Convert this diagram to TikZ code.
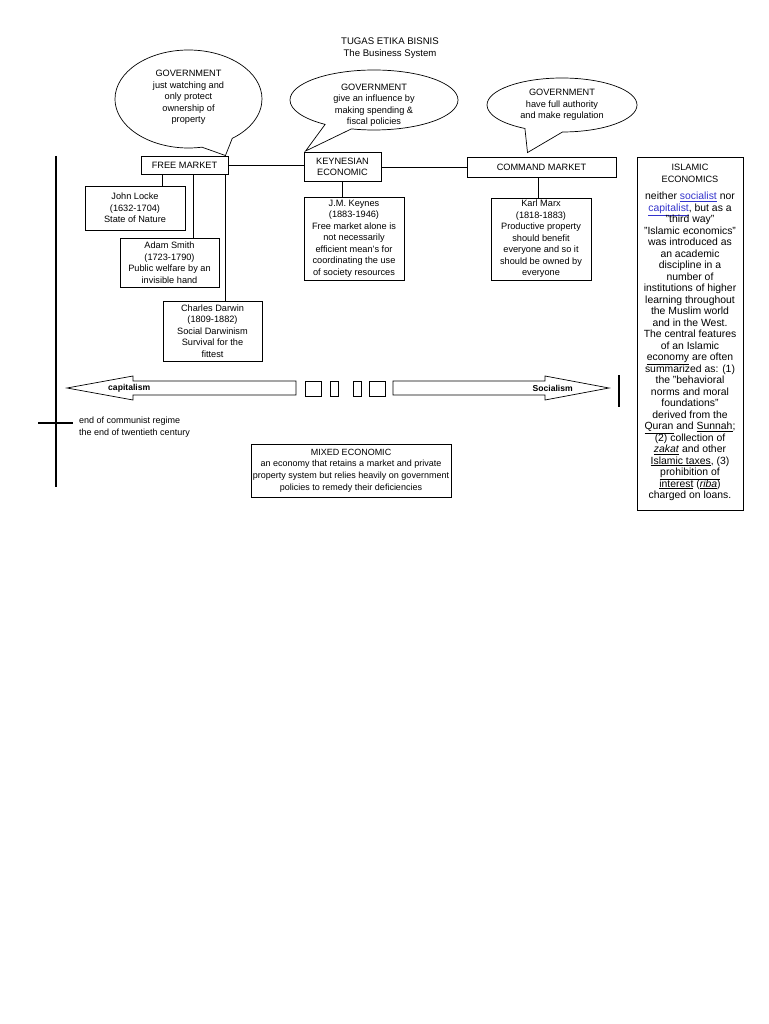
\documentclass[tikz,border=0pt]{standalone}
\usepackage{fontspec}
\setmainfont{Liberation Sans}
\usetikzlibrary{shapes.callouts,calc}
\definecolor{linkblue}{HTML}{3333CC}
\newcommand{\myul}[1]{\underline{#1}}
\newcommand{\tightlines}{\setlength{\lineskiplimit}{-6pt}\setlength{\lineskip}{0pt}}
\begin{document}
\begin{tikzpicture}[x=1pt,y=-1pt,
  font=\fontsize{9.2}{11.5}\selectfont,
  box/.style={draw, line width=0.9pt, inner sep=0pt, align=center},
  txt/.style={inner sep=0pt, align=center},
  conn/.style={line width=0.9pt},
  bubble/.style={ellipse callout, draw, line width=0.7pt, inner sep=0pt},
  arrowshape/.style={draw, line width=0.7pt},
  sq/.style={draw, line width=0.9pt, inner sep=0pt, minimum height=15pt}]
\useasboundingbox[fill=white] (0,0) rectangle (768,1024);

% title
\node[txt, font=\fontsize{9.6}{12}\selectfont] (title) at (390,48) {TUGAS ETIKA BISNIS\\The Business System};

% main boxes
\node[box, minimum width=87pt, minimum height=18pt] (fm) at (184.5,165) {FREE MARKET};
\node[box, minimum width=77pt, minimum height=29pt] (ke) at (342.5,167) {KEYNESIAN\\ECONOMIC};
\node[box, minimum width=149pt, minimum height=20pt] (cm) at (541.5,167) {COMMAND MARKET};

% callouts
\node[bubble, callout pointer arc=26, minimum width=147pt, minimum height=98pt, callout absolute pointer={([xshift=-3pt]fm.north east)}] (b1) at (188.5,99) {};
\node[txt] (b1t) at (188.5,97.5) {GOVERNMENT\\just watching and\\only protect\\ownership of\\property};
\node[bubble, callout pointer arc=20, minimum width=168pt, minimum height=60pt, callout absolute pointer={([xshift=2pt,yshift=1pt]ke.north west)}] (b2) at (374,100) {};
\node[txt] (b2t) at (374,105) {GOVERNMENT\\give an influence by\\making spending \&\\fiscal policies};
\node[bubble, callout pointer arc=30, minimum width=150pt, minimum height=54pt, callout absolute pointer={([xshift=-14pt,yshift=4pt]cm.north)}] (b3) at (562,105) {};
\node[txt] (b3t) at (562,105) {GOVERNMENT\\have full authority\\and make regulation};

% sub boxes
\node[box, minimum width=100pt, minimum height=44pt] (locke) at (135,208) {John Locke\\(1632-1704)\\State of Nature};
\node[box, minimum width=99pt, minimum height=49pt] (smith) at (169.5,262.5) {Adam Smith\\(1723-1790)\\Public welfare by an\\invisible hand};
\node[box, minimum width=99pt, minimum height=60pt] (darwin) at (212.5,331) {Charles Darwin\\(1809-1882)\\Social Darwinism\\Survival for the\\fittest};
\node[box, minimum width=100pt, minimum height=83pt] (keynes) at (354,238.5) {J.M. Keynes\\(1883-1946)\\Free market alone is\\not necessarily\\efficient mean's for\\coordinating the use\\of society resources};
\node[box, minimum width=100pt, minimum height=82pt] (marx) at (541,239) {Karl Marx\\(1818-1883)\\Productive property\\should benefit\\everyone and so it\\should be owned by\\everyone};

% connectors
\draw[conn] (fm.east) -- (fm.east -| ke.west);
\draw[conn] (ke.east) -- (cm.west);
\draw[conn] ([xshift=-22.5pt]fm.south) -- ([xshift=-22.5pt]fm.south |- locke.north);
\draw[conn] ([xshift=8.5pt]fm.south) -- ([xshift=8.5pt]fm.south |- smith.north);
\draw[conn] ([xshift=40.5pt]fm.south) -- ([xshift=40.5pt]fm.south |- darwin.north);
\draw[conn] (ke.south) -- (ke.south |- keynes.north);
\draw[conn] ([xshift=-3.5pt]cm.south) -- ([xshift=-3.5pt]cm.south |- marx.north);

% Islamic economics
\node[box, minimum width=106pt, minimum height=353pt] (isl) at (690,333.5) {};
\node[txt] (islh) at (690,173.5) {ISLAMIC\\ECONOMICS};
\node[txt, font={\fontsize{10.4}{11.5}\selectfont\tightlines}] (islb) at (690,346.5) {neither \textcolor{linkblue}{\myul{socialist}} nor\\
\textcolor{linkblue}{\myul{capitalist}}, but as a\\
"third way"\\
"Islamic economics"\\
was introduced as\\
an academic\\
discipline in a\\
number of\\
institutions of higher\\
learning throughout\\
the Muslim world\\
and in the West.\\
The central features\\
of an Islamic\\
\myul{economy} are often\\
summarized as: (1)\\
the "behavioral\\
norms and moral\\
foundations"\\
derived from the\\
\myul{Quran} and \myul{Sunnah};\\
(2) collection of\\
\myul{\textit{zakat}} and other\\
\myul{Islamic taxes}, (3)\\
\myul{prohibition of}\\
\myul{interest} (\myul{\textit{riba}})\\
charged on loans.};

% spectrum arrows
\draw[arrowshape] (67,388) -- (133,376) -- (133,381) -- (296,381) -- (296,395) -- (133,395) -- (133,400) -- cycle;
\draw[arrowshape] (609,388) -- (545,376) -- (545,381) -- (393,381) -- (393,395) -- (545,395) -- (545,400) -- cycle;
\node[inner sep=0pt, anchor=west, font=\fontsize{8.6}{10}\selectfont\bfseries] (cap) at (108,388.5) {capitalism};
\node[inner sep=0pt, anchor=east, font=\fontsize{8.6}{10}\selectfont\bfseries] (soc) at (573,388.5) {Socialism};
\node[sq, minimum width=16pt] (sq1) at (313,388.5) {};
\node[sq, minimum width=8pt] (sq2) at (334,388.5) {};
\node[sq, minimum width=8pt] (sq3) at (357,388.5) {};
\node[sq, minimum width=16pt] (sq4) at (377,388.5) {};

% timeline
\coordinate (tlt) at (56,156);
\coordinate (tlb) at (56,487);
\draw[line width=2.4pt] (tlt) -- (tlb);
\coordinate (tkl) at (38,423);
\coordinate (tkr) at (73,423);
\draw[line width=2pt] (tkl) -- (tkr);
\coordinate (rvt) at (619,375);
\coordinate (rvb) at (619,407);
\draw[line width=2pt] (rvt) -- (rvb);
\node[inner sep=0pt, anchor=west, align=left, font=\fontsize{9}{12}\selectfont] (endc) at (79,427) {end of communist regime\\the end of twentieth century};

% mixed economic
\node[box, minimum width=200pt, minimum height=53pt, font=\fontsize{9}{11.7}\selectfont] (mix) at (351,470.5) {MIXED ECONOMIC\\an economy that retains a market and private\\property system but relies heavily on government\\policies to remedy their deficiencies};
\end{tikzpicture}
\end{document}
